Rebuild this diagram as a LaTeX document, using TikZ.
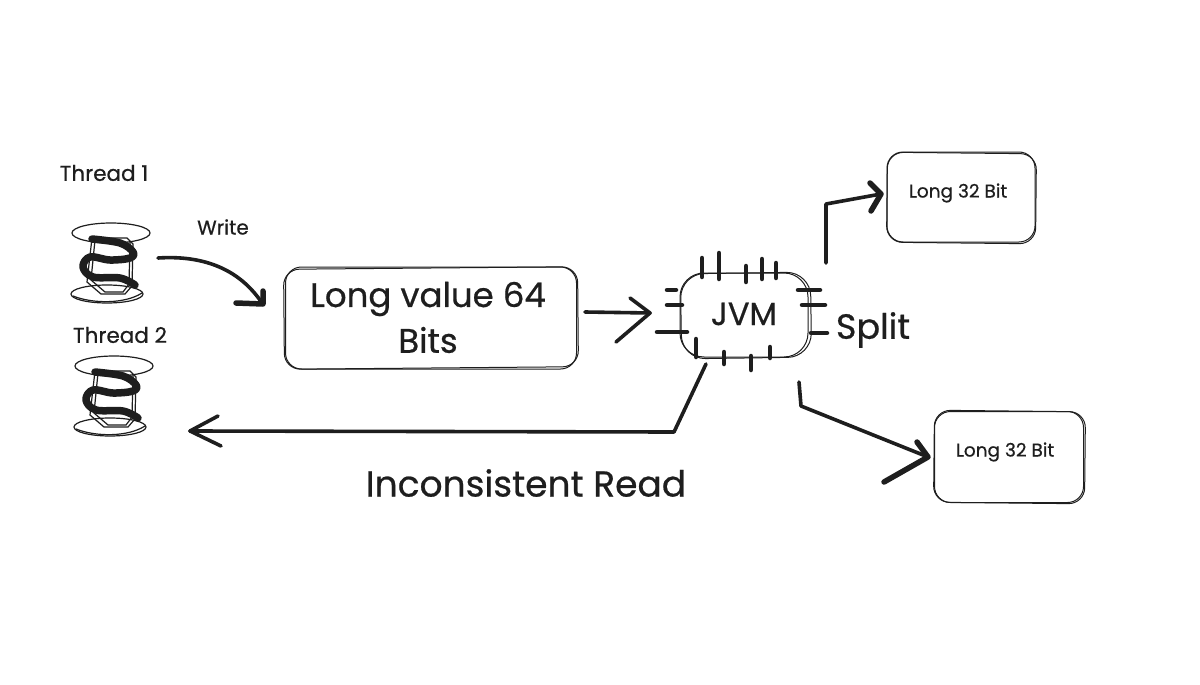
\documentclass[tikz,border=0pt]{standalone}
\usepackage{fontspec}
\setmainfont{Poppins}[FakeBold=0.6]
\definecolor{ink}{HTML}{1E1E1E}
\tikzset{
  sketch/.style={draw=ink,line width=1pt,rounded corners=16pt,inner sep=0pt},
  conn/.style={draw=ink,line width=3.6pt,line cap=round,line join=round},
  head/.style={draw=ink,line width=5.5pt,line cap=round,line join=round},
  tick/.style={draw=ink,line width=4.5pt,line cap=round},
  heavy stroke/.style={draw=ink,line width=7.5pt,line cap=round,line join=round},
  thin stroke/.style={draw=ink,line width=1.2pt},
  lab/.style={text=ink,inner sep=0pt,align=center},
  spool/.pic={
    \draw[thin stroke] (0,42) ellipse (36 and 9);
    \draw[thin stroke] (-34,44) .. controls (-14,52) and (18,52) .. (35,41);
    \draw[thin stroke] (4,-19) ellipse (39 and 10);
    \draw[thin stroke] (-15,-14) -- (-20,30) -- (-6,42) -- (18,42) -- (25,34) -- (26,-8) -- (20,-14) -- cycle;
    \draw[thin stroke] (-12,-12) -- (-16,28) -- (-2,40) -- (16,40) -- (22,32) -- (23,-10);
    \draw[heavy stroke] plot[smooth,tension=0.6] coordinates {(-15,-13) (13,-9) (26,0) (23,6) (3,8) (-17,5) (-24,15) (-14,25) (13,26) (28,33)};
  }
}
\begin{document}
\begin{tikzpicture}[x=1pt,y=-1pt]
\useasboundingbox (0,0) rectangle (1200,685);
\fill[white] (0,0) rectangle (1200,685);
% thread icons
\path pic at (107,252) {spool};
\path pic at (110,385) {spool};
\node[lab,font=\fontsize{21.5}{24}\selectfont] (t1) at (104,173) {Thread 1};
\node[lab,font=\fontsize{21.5}{24}\selectfont] (t2) at (120,335) {Thread 2};
\node[lab,font=\fontsize{20}{23}\selectfont] (wr) at (223,227) {Write};
% boxes
\node[sketch,minimum width=291pt,minimum height=102pt,anchor=center] (big) at (431,318) {};
\draw[sketch,rotate around={0.5:(431,318)}] (284,268) rectangle (578,368);
\node[lab,font=\fontsize{34}{40}\selectfont] (bigA) at (428,299) {Long value 64};
\node[lab,font=\fontsize{34}{40}\selectfont] (bigB) at (428,340) {Bits};
\node[sketch,rounded corners=24pt,minimum width=128pt,minimum height=84pt] (jvm) at (744,315) {};
\draw[sketch,rounded corners=24pt,rotate around={0.8:(744,315)}] (681,273) rectangle (811,358);
\node[lab,font=\fontsize{32}{36}\selectfont] (jvmT) at (744,314) {JVM};
\node[lab,font=\fontsize{35}{42}\selectfont] (split) at (873,330) {Split};
\node[sketch,minimum width=148pt,minimum height=90pt] (a) at (961,197) {};
\draw[sketch,rotate around={-0.6:(961,197)}] (887,153) rectangle (1036,243);
\node[lab,font=\fontsize{18.5}{20}\selectfont] (aT) at (958,193) {Long 32 Bit};
\node[sketch,minimum width=149pt,minimum height=91pt] (b) at (1009,457) {};
\draw[sketch,rotate around={-0.6:(1009,457)}] (934,411) rectangle (1085,503);
\node[lab,font=\fontsize{18.5}{20}\selectfont] (bT) at (1005,452) {Long 32 Bit};
\node[lab,font=\fontsize{36}{42}\selectfont] (inc) at (526,483) {Inconsistent Read};
% jvm ticks
\foreach \x/\ya/\yb in {702/258/277,719/253/279,746/266/282,762/259/279,776/263/278,696/339/357,724/352/364,751/356/370,770/347/358}
  \draw[tick] (\x,\ya) -- (\x,\yb);
\foreach \xa/\xb/\y in {667/676/290,667/682/305,657/687/332,798/820/290,802/825/305,811/827/333}
  \draw[tick] (\xa,\y) -- (\xb,\y);
% connector anchors
\coordinate (wS) at (158,258);
\coordinate (wE) at (262,303);
\coordinate (bS) at (585,312);
\coordinate (bE) at (650,313);
\coordinate (rS) at (706,364);
\coordinate (rM) at (674,432);
\coordinate (rE) at (190,431);
\coordinate (uS) at (826,263);
\coordinate (uM) at (826,204);
\coordinate (uE) at (881,194);
\coordinate (dS) at (799,382);
\coordinate (dM) at (801,406);
\coordinate (dE) at (928,457);
% connectors
\draw[conn] (wS) .. controls (205,255) and (240,270) .. (wE);
\draw[head] (263,291) -- (263,304) -- (236,303);
\draw[conn] (bS) -- (bE);
\draw[conn] (630,298) -- (bE) -- (616,342);
\draw[conn] (rS) -- (rM) -- (rE);
\draw[conn] (218,416) -- (rE) -- (221,446);
\draw[conn] (uS) -- (uM) -- (uE);
\draw[head] (870,183) -- (uE) -- (871,211);
\draw[conn] (dS) -- (dM) -- (dE);
\draw[head] (917,442) -- (dE) -- (884,482);
\end{tikzpicture}
\end{document}
